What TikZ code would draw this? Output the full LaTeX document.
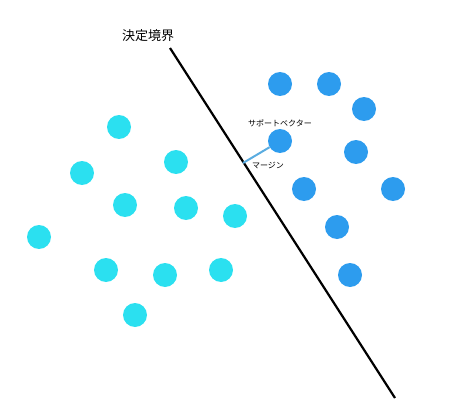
\documentclass[tikz,border=0pt]{standalone}
\usepackage{fontspec}
\newfontfamily\cjk{Noto Sans CJK JP}
\usetikzlibrary{positioning}
\definecolor{cyandot}{RGB}{43,224,240}
\definecolor{bluedot}{RGB}{45,156,238}
\definecolor{marginline}{RGB}{90,172,224}
\tikzset{
  cdot/.style={circle, fill=cyandot, inner sep=0pt, minimum size=24pt},
  bdot/.style={circle, fill=bluedot, inner sep=0pt, minimum size=24pt},
  lbl/.style={font=\cjk\fontsize{8}{8}\selectfont, inner sep=0pt}
}

\begin{document}
\begin{tikzpicture}[x=1pt, y=-1pt]
\useasboundingbox (0,0) rectangle (474,412);
% Lines
\coordinate (top) at (170,48);
\coordinate (bottom) at (395,398);
\draw[black, line width=2.2pt] (top) -- (bottom);
\node[font=\cjk\fontsize{13}{13}\selectfont, inner sep=0pt] (title) at (148,36) {決定境界};
% Nodes
\node[cdot] (c1) at (119,127) {};
\node[cdot] (c2) at (176,162) {};
\node[cdot] (c3) at (82,173) {};
\node[cdot] (c4) at (125,205) {};
\node[cdot] (c5) at (186,208) {};
\node[cdot] (c6) at (235,216) {};
\node[cdot] (c7) at (39,237) {};
\node[cdot] (c8) at (106,270) {};
\node[cdot] (c9) at (165,275) {};
\node[cdot] (c10) at (221,270) {};
\node[cdot] (c11) at (135,315) {};
\node[bdot] (b1) at (280,84) {};
\node[bdot] (b2) at (329,84) {};
\node[bdot] (b3) at (364,109) {};
\node[bdot] (sv) at (280,141) {};
\node[bdot] (b5) at (356,152) {};
\node[bdot] (b6) at (304,189) {};
\node[bdot] (b7) at (393,189) {};
\node[bdot] (b8) at (337,227) {};
\node[bdot] (b9) at (350,275) {};
% Margin
\coordinate (foot) at (243,163);
\draw[marginline, line width=2pt] (sv) -- (foot);
\node[lbl] (svlabel) at (280,123) {サポートベクター};
\node[lbl] (marginlabel) at (268,166) {マージン};
\end{tikzpicture}
\end{document}
